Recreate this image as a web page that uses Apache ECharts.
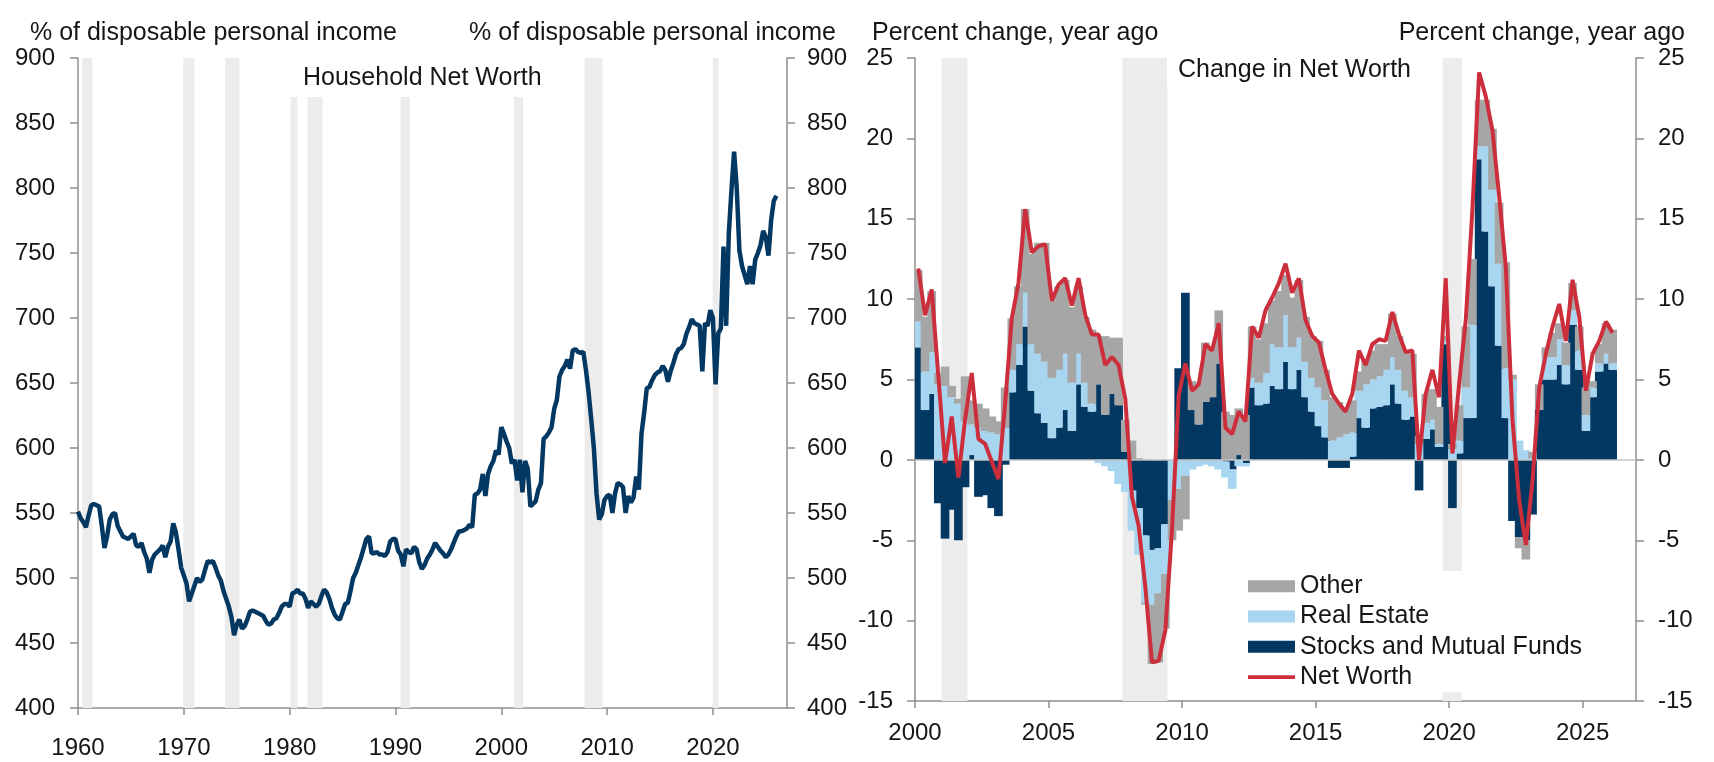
<!DOCTYPE html>
<html><head><meta charset="utf-8">
<script src="https://cdn.jsdelivr.net/npm/echarts@6/dist/echarts.min.js"></script>
<style>html,body{margin:0;padding:0;background:#fff}#c{width:1714px;height:762px}</style>
</head><body><div id="c"></div>
<script>
// ---------- DATA ----------
// Left panel: household net worth, % of disposable personal income, quarterly, first point at 1960.0
const nwStartYear = 1960;
const nwRatio = [
  551,546,543,539, 548,556,557,556, 555,540,523,532, 545,549,550,540, 536,532,531,530,
  532,534,525,524, 527,520,515,504, 514,518,520,522, 525,516,524,528, 542,535,522,508,
  502,496,482,488, 494,500,497,499, 506,513,512,513, 508,502,498,490, 484,478,470,456,
  464,468,461,463, 468,474,475,474, 473,472,471,467, 464,465,468,469, 473,478,480,480,
  478,488,489,491, 488,488,484,477, 482,480,478,480, 486,491,489,484, 477,472,469,468,
  474,480,481,490, 500,504,510,516, 523,530,532,519, 519,520,518,518, 517,520,528,530,
  530,521,518,509, 522,520,519,524, 522,512,507,510, 515,518,522,527, 524,521,519,516,
  518,522,527,532, 536,536,537,538, 541,539,564,565, 568,580,563,580, 586,590,598,595,
  616,611,605,600, 588,591,575,591, 566,590,584,555, 557,559,568,573, 607,609,612,616,
  630,637,655,660, 663,668,661,675, 676,674,673,674, 660,643,622,600, 565,545,549,560,
  563,564,550,565, 573,572,570,550, 563,558,562,578, 568,611,627,646, 647,652,656,658,
  659,663,660,651, 659,665,672,676, 677,680,688,693, 699,696,695,694, 659,696,694,706,
  700,649,688,692, 755,694,765,798, 828,800,752,740, 733,726,740,726, 745,750,756,767,
  762,748,775,790, 794
];
const recessionsLeft = [[1960.4,1961.35],[1969.95,1971.0],[1973.9,1975.25],[1980.07,1980.73],[1981.68,1983.1],[1990.48,1991.37],[2001.2,2002.07],[2007.87,2009.57],[2019.97,2020.54]];
const leftXTicks = [1960,1970,1980,1990,2000,2010,2020];

// Right panel: percent change, year ago, quarterly from 2000Q1 (axis runs through 2026Q4)
const chgStartYear = 2000, chgEndYear = 2026;
const stocks = [
  7.0,3.1,4.1,-2.7,-4.9,-3.1,-5.0,-1.7,0.3,-2.3,
  -2.2,-3.0,-3.5,-0.3,4.2,5.9,8.3,4.3,2.9,2.3,
  1.35,2.0,3.1,1.8,4.7,3.3,3.0,4.7,2.8,4.1,
  3.4,0.5,-1.9,-3.0,-4.7,-5.6,-5.5,-4.0,0.0,5.7,
  10.4,3.1,2.2,3.6,3.9,6.0,-0.1,-0.6,0.3,-0.2,
  4.5,3.4,3.5,4.6,4.4,6.1,4.4,5.6,3.9,3.0,
  2.1,1.4,-0.5,-0.5,-0.5,0.2,2.6,2.0,3.2,3.3,
  3.4,4.7,3.5,2.5,2.7,-1.9,1.3,1.9,0.8,7.2,
  -3.0,0.4,2.6,2.6,18.7,14.2,10.8,7.1,2.6,-3.8,
  -4.8,-5.0,-3.4,3.1,5.0,5.0,5.9,4.7,8.4,5.6,
  1.8,3.9,5.5,6.0,5.6
];
const realEstate = [
  1.6,2.4,2.6,4.7,4.6,3.9,3.5,2.4,1.9,2.0,
  1.8,1.7,1.6,2.0,1.4,1.3,2.1,2.9,3.7,3.8,
  3.75,3.6,3.5,3.0,1.9,1.5,0.5,-0.2,-0.4,-0.7,
  -1.5,-2.0,-2.5,-2.9,-4.2,-3.4,-2.8,-3.1,-2.5,-1.8,
  -1.0,-0.6,-0.4,-0.3,-0.4,-0.6,-1.0,-1.2,-0.4,-0.2,
  0.6,1.4,1.9,2.6,2.6,2.9,2.6,2.0,2.2,2.1,
  2.4,2.3,1.2,1.4,1.6,1.5,1.7,2.7,1.8,1.9,
  2.2,1.7,2.1,1.8,1.2,1.0,1.0,0.6,0.2,0.2,
  0.7,0.8,1.9,5.8,0.8,5.3,6.0,5.1,3.1,5.0,
  1.2,0.6,0.1,0.0,1.4,1.4,1.6,1.2,0.9,1.2,
  1.0,0.6,0.5,0.6,0.4
];
const other = [
  3.2,3.4,3.8,0.7,1.2,0.7,0.3,2.8,1.5,1.5,
  1.4,1.0,0.8,2.5,3.2,3.6,5.2,5.6,6.9,7.4,
  4.8,5.2,4.6,4.7,4.2,4.1,4.6,3.0,4.9,3.5,
  4.2,2.0,1.2,0.1,-0.1,-3.7,-4.3,-3.4,-2.5,-2.6,
  -2.7,1.8,2.6,3.7,3.1,3.3,3.0,2.8,2.9,2.8,
  3.2,2.7,3.1,2.7,3.5,2.5,3.1,3.6,2.8,2.6,
  2.9,1.9,2.7,2.2,1.4,2.0,1.2,1.5,1.8,2.0,
  1.6,2.7,2.1,2.5,2.7,0.5,1.8,1.9,2.3,0.3,
  0.3,2.2,3.8,4.1,2.9,2.9,3.8,3.8,6.6,0.3,
  -0.7,-1.2,0.4,1.6,0.6,1.5,1.0,1.4,1.7,1.5,
  1.7,0.4,1.2,1.9,2.1
];
const netWorthChg = [
  11.9,9.0,10.6,5.2,-0.2,2.7,-1.1,2.5,5.4,1.3,
  1.0,-0.1,-1.2,3.5,8.8,11.0,15.6,12.9,13.3,13.4,
  9.9,10.9,11.3,9.6,11.3,9.0,7.8,7.8,5.9,6.4,
  5.9,3.8,-2.3,-4.1,-7.9,-12.6,-12.5,-10.6,-4.3,4.0,
  6.0,4.3,4.7,7.2,6.8,8.5,2.0,1.6,3.0,2.4,
  8.3,7.6,9.3,10.1,11.0,12.2,10.4,11.3,8.7,7.7,
  7.3,5.6,4.1,3.5,3.0,4.1,6.8,5.9,7.2,7.5,
  7.4,9.2,7.8,6.7,6.8,0.0,4.1,5.6,3.9,11.3,
  0.4,4.7,8.7,15.6,24.1,22.6,20.5,16.4,12.0,2.5,
  -2.5,-5.3,-1.3,4.5,6.6,8.3,9.7,7.4,11.2,8.9,
  4.3,6.6,7.4,8.6,7.9
];
const recessionsRight = [[2001.0,2001.96],[2007.77,2009.45],[2019.76,2020.48]];
const rightXTicks = [2000,2005,2010,2015,2020,2025];

// quarter categories for the bar axis (2000Q1 .. 2026Q4)
const quarters = [];
for (let y = chgStartYear; y <= chgEndYear; y++) for (let q = 1; q <= 4; q++) quarters.push(y + 'Q' + q);

// ---------- STYLE ----------
const FONT = '"Liberation Sans", Arial, sans-serif';
const TXT = '#161616';
const AX = '#8f8f8f';
const NAVY = '#033863';
const LIGHT = '#a8d5f0';
const GRAY = '#a6a6a6';
const RED = '#cc2f3b';
const BAND = '#ececec';

const leftLine = nwRatio.map((v, i) => [nwStartYear + i / 4, v]);

function yAx(grid, pos, min, max, interval, margin) {
  return {
    type: 'value', gridIndex: grid, position: pos, min: min, max: max, interval: interval,
    axisLine: { show: true, onZero: false, lineStyle: { color: AX, width: 1.5 } },
    axisTick: { show: true, inside: false, length: 8, lineStyle: { color: AX, width: 1.5 } },
    axisLabel: { color: TXT, fontSize: 24, fontFamily: FONT, margin: margin, formatter: v => String(v) },
    splitLine: { show: false }
  };
}
function xAx(grid, min, max, ticks, margin) {
  return {
    type: 'value', gridIndex: grid, min: min, max: max,
    axisLine: { show: true, onZero: false, lineStyle: { color: AX, width: 1.5 } },
    axisTick: { show: true, inside: false, length: 7, customValues: ticks, lineStyle: { color: AX, width: 1.5 } },
    axisLabel: { color: TXT, fontSize: 24, fontFamily: FONT, margin: margin, customValues: ticks, formatter: v => String(v) },
    splitLine: { show: false }
  };
}
const titleText = { fontSize: 25, fontWeight: 'normal', color: TXT, fontFamily: FONT, lineHeight: 30 };
// bars slightly wider than a quarter so neighbouring columns overlap and leave no anti-aliasing seams
const barBase = { stack: 'chg', xAxisIndex: 2, yAxisIndex: 2, barWidth: '130%', barCategoryGap: '0%', z: 2 };

const chart = echarts.init(document.getElementById('c'), null, { renderer: 'canvas' });
chart.setOption({
  animation: false,
  backgroundColor: '#fff',
  textStyle: { fontFamily: FONT },
  grid: [
    { left: 78, top: 58, width: 709, height: 650, outerBoundsMode: 'none' },
    { left: 915, top: 58, width: 721, height: 643, outerBoundsMode: 'none' }
  ],
  title: [
    { text: '% of disposable personal income', left: 30, top: 18, padding: 0, textStyle: titleText },
    { text: '% of disposable personal income', right: 878, top: 18, padding: 0, textStyle: titleText },
    { text: 'Household Net Worth', left: 290, top: 58, padding: [5, 6, 4, 13], backgroundColor: '#fff', textStyle: titleText },
    { text: 'Percent change, year ago', left: 872, top: 18, padding: 0, textStyle: titleText },
    { text: 'Percent change, year ago', right: 29, top: 18, padding: 0, textStyle: titleText },
    { text: 'Change in Net Worth', left: 1167, top: 58, padding: [0, 6, 0, 11], backgroundColor: '#fff', textStyle: Object.assign({}, titleText, { lineHeight: 25 }) }
  ],
  legend: {
    orient: 'vertical', left: 1240, top: 571, padding: [0, 12, 0, 8], backgroundColor: '#fff',
    itemWidth: 47, itemHeight: 12, itemGap: 0, selectedMode: false,
    textStyle: { fontSize: 25, color: TXT, fontFamily: FONT, lineHeight: 30.3 },
    data: [
      { name: 'Other', icon: 'rect' },
      { name: 'Real Estate', icon: 'rect' },
      { name: 'Stocks and Mutual Funds', icon: 'rect' },
      { name: 'Net Worth', icon: 'path://M0,0 H50 V4 H0 Z' }
    ]
  },
  xAxis: [
    xAx(0, 1960, 2027, leftXTicks, 28),
    xAx(1, chgStartYear, chgEndYear + 1, rightXTicks, 20),
    { type: 'category', gridIndex: 1, data: quarters, boundaryGap: true, show: false }
  ],
  yAxis: [
    yAx(0, 'left', 400, 900, 50, 23),
    yAx(0, 'right', 400, 900, 50, 20),
    yAx(1, 'left', -15, 25, 5, 22),
    yAx(1, 'right', -15, 25, 5, 22)
  ],
  series: [
    { type: 'line', name: 'bandsL', xAxisIndex: 0, yAxisIndex: 0, data: [], z: 1, silent: true,
      markArea: { silent: true, itemStyle: { color: BAND }, data: recessionsLeft.map(r => [{ xAxis: r[0] }, { xAxis: r[1] }]) } },
    { type: 'line', name: 'Household Net Worth', xAxisIndex: 0, yAxisIndex: 0, data: leftLine,
      symbol: 'none', lineStyle: { color: NAVY, width: 4.5 }, itemStyle: { color: NAVY }, z: 3 },
    { type: 'line', name: 'bandsR', xAxisIndex: 1, yAxisIndex: 2, data: [], z: 1, silent: true,
      markArea: { silent: true, itemStyle: { color: BAND }, data: recessionsRight.map(r => [{ xAxis: r[0] }, { xAxis: r[1] }]) },
      markLine: { silent: true, symbol: ['none', 'none'], label: { show: false }, lineStyle: { color: '#c4c4c4', width: 1.5, type: 'solid' }, data: [{ yAxis: 0 }] } },
    Object.assign({ type: 'bar', name: 'Stocks and Mutual Funds', data: stocks, itemStyle: { color: NAVY } }, barBase),
    Object.assign({ type: 'bar', name: 'Real Estate', data: realEstate, itemStyle: { color: LIGHT } }, barBase),
    Object.assign({ type: 'bar', name: 'Other', data: other, itemStyle: { color: GRAY } }, barBase),
    { type: 'line', name: 'Net Worth', xAxisIndex: 2, yAxisIndex: 2, data: netWorthChg,
      symbol: 'none', lineStyle: { color: RED, width: 4 }, itemStyle: { color: RED }, z: 5 }
  ]
});
</script>
</body></html>
